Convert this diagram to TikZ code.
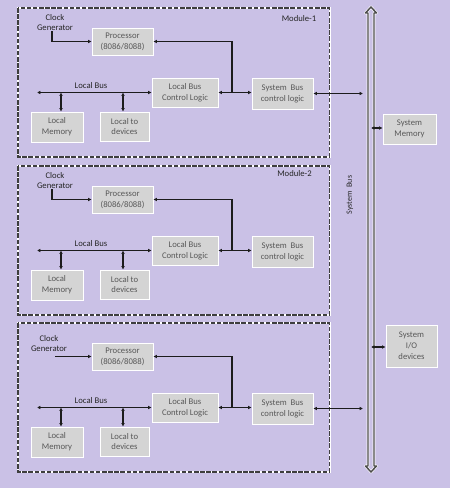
\documentclass[tikz,border=0pt]{standalone}
\usepackage{fontspec}
\setmainfont{Carlito}
\usetikzlibrary{arrows.meta}

\definecolor{bglav}{RGB}{202,193,230}
\definecolor{boxgray}{RGB}{212,212,212}
\definecolor{txtgray}{RGB}{88,88,88}
\definecolor{linedark}{RGB}{28,28,28}

\tikzset{
  blk/.style={draw=white, line width=0.6pt, fill=boxgray, text=txtgray, align=center,
    inner sep=0pt, font=\fontsize{6.5}{8.2}\selectfont},
  lbl/.style={text=black!85, align=center, inner sep=0pt, font=\fontsize{6.5}{8.2}\selectfont},
  link/.style={line width=0.8pt, draw=linedark,
    {Latex[length=2.6pt,width=2.8pt]}-{Latex[length=2.6pt,width=2.8pt]}},
  feed/.style={line width=0.8pt, draw=linedark, -{Latex[length=2.6pt,width=2.8pt]}},
  modframe/.style={draw=white, line width=1.5pt},
  moddash/.style={draw=linedark!85, line width=1pt, dash pattern=on 3.4pt off 1.2pt},
  busout/.style={draw=white, line width=2pt, line join=round},
  busline/.style={draw=black!70, line width=1.1pt, line join=round}
}

\begin{document}
\begin{tikzpicture}[x=0.75pt,y=-0.75pt]
% background
\fill[bglav] (0,0) rectangle (450,488);
\useasboundingbox (0,0) rectangle (450,488);

% the three modules
\foreach \m/\dy in {1/0,2/158,3/315}{
  \draw[modframe] (18,8+\dy) rectangle (329.5,157+\dy);
  \draw[moddash] (18,8+\dy) rectangle (329.5,157+\dy);
  \node[blk, minimum width=45.75pt, minimum height=20.25pt] (proc\m) at (122.5,41.5+\dy) {Processor\\(8086/8088)};
  \node[blk, minimum width=49.5pt, minimum height=21.75pt] (lbcl\m) at (185,92.5+\dy) {Local Bus\\Control Logic};
  \node[blk, minimum width=45.75pt, minimum height=23.25pt] (sbcl\m) at (282.5,93.5+\dy) {System\ \ Bus\\control logic};
  \node[blk, minimum width=39pt, minimum height=22.5pt] (lmem\m) at (57,127+\dy) {Local\\Memory};
  \node[blk, minimum width=36.75pt, minimum height=21.75pt] (ldev\m) at (124.5,126.5+\dy) {Local\ to\\devices};
  \node[lbl] (lbus\m) at (91,86+\dy) {Local Bus};
  % local bus and its taps
  \coordinate (lbw\m) at (37,92.5+\dy);
  \draw[link] (lbw\m) -- (lbcl\m.west);
  \coordinate (tm\m) at (61,92.5+\dy);
  \coordinate (td\m) at (123,92.5+\dy);
  \draw[link] (tm\m) -- (tm\m |- lmem\m.north);
  \draw[link] (td\m) -- (td\m |- ldev\m.north);
  % local bus control to system bus control, and back to the processor
  \draw[link] (lbcl\m.east) -- (lbcl\m.east -| sbcl\m.west);
  \coordinate (jn\m) at (232,92.5+\dy);
  \draw[feed] (jn\m) |- (proc\m.east);
}

\node[lbl] (mod1) at (299,19) {Module-1};
\node[lbl] (mod2) at (294.5,174) {Module-2};

% clock generators
\node[lbl] (clk1) at (55,22.5) {Clock\\Generator};
\node[lbl] (clk2) at (55,180.5) {Clock\\Generator};
\node[lbl] (clk3) at (49,343.5) {Clock\\Generator};
\draw[feed] ([xshift=-2.25pt]clk1.south) |- (proc1.west);
\draw[feed] ([xshift=-2.25pt]clk2.south) |- (proc2.west);
\coordinate (ck3) at (55,356.5);
\draw[feed] (ck3) -- (proc3.west);

% system bus
\draw[busout] (368,13) -- (368,466) -- (365.5,466) -- (371,472) -- (376.5,466) -- (374,466)
  -- (374,13) -- (376.5,13) -- (371,7) -- (365.5,13) -- cycle;
\draw[busline] (368,13) -- (368,466) -- (365.5,466) -- (371,472) -- (376.5,466) -- (374,466)
  -- (374,13) -- (376.5,13) -- (371,7) -- (365.5,13) -- cycle;
\node[lbl, rotate=90, font=\fontsize{6}{7}\selectfont] (sbus) at (350,195) {System\ \ Bus};
\coordinate (busl) at (363,240);
\draw[link] (sbcl1.east) -- (sbcl1.east -| busl);
\draw[link] (sbcl3.east) -- (sbcl3.east -| busl);

% memory and i/o on the system bus
\node[blk, minimum width=39.75pt, minimum height=22.5pt] (smem) at (409.5,129) {System\\Memory};
\node[blk, minimum width=38.25pt, minimum height=31.5pt] (sio) at (411.5,346) {System\\I/O\\devices};
\coordinate (bm) at (371,128);
\coordinate (bi) at (371,347);
\draw[link] (bm) -- (bm -| smem.west);
\draw[link] (bi) -- (bi -| sio.west);
\end{tikzpicture}
\end{document}
